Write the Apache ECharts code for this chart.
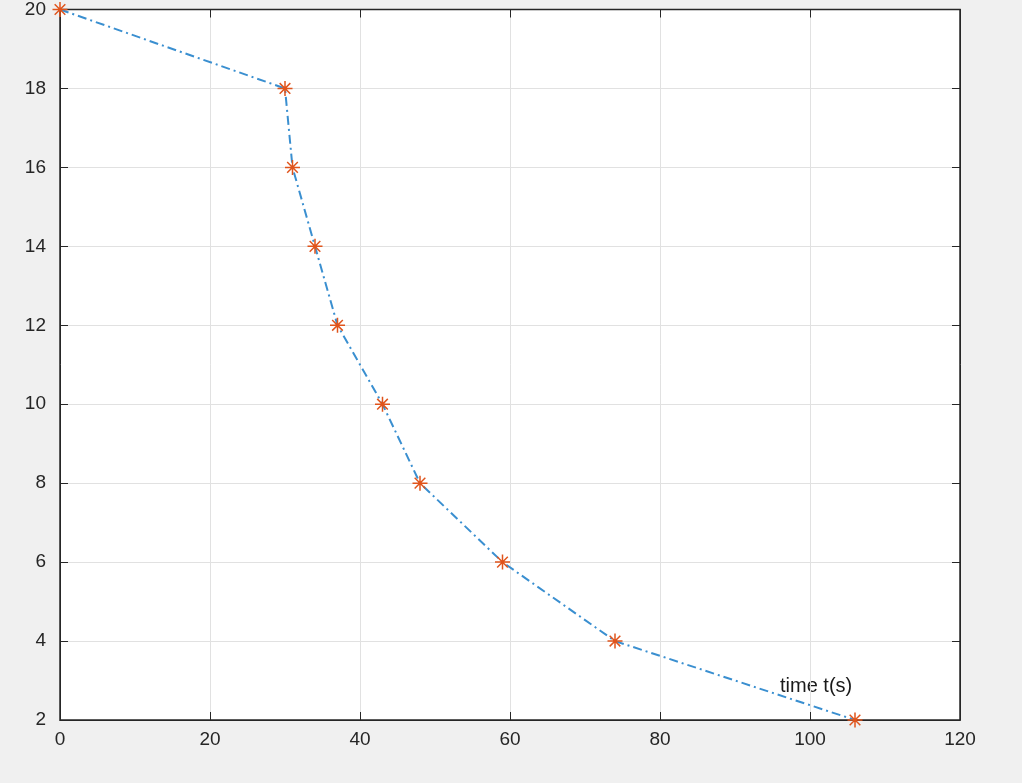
<!DOCTYPE html>
<html>
<head>
<meta charset="utf-8">
<script src="https://cdn.jsdelivr.net/npm/echarts@6/dist/echarts.min.js"></script>
<style>
html, body { margin: 0; padding: 0; background: #f0f0f0; }
#chart { width: 1022px; height: 783px; }
</style>
</head>
<body>
<div id="chart"></div>
<script>
var timeValues = [0, 30, 31, 34, 37, 43, 48, 59, 74, 106];
var heightValues = [20, 18, 16, 14, 12, 10, 8, 6, 4, 2];
var points = timeValues.map(function (t, i) { return [t, heightValues[i]]; });

var chart = echarts.init(document.getElementById('chart'));

var star = 'path://M-1,-10L1,-10L1,10L-1,10Z M-10,-1L10,-1L10,1L-10,1Z ' +
    'M-7.8,-6.4L-6.4,-7.8L7.8,6.4L6.4,7.8Z M6.4,-7.8L7.8,-6.4L-6.4,7.8L-7.8,6.4Z';

var axisText = { color: '#262626', fontSize: 19, fontFamily: 'Liberation Sans, Arial, sans-serif' };
var lineCol = '#262626';

function tick() {
    return { show: true, inside: true, length: 8, lineStyle: { color: lineCol } };
}

var option = {
    backgroundColor: '#f0f0f0',
    animation: false,
    grid: { left: 60, right: 62, top: 7, bottom: 63, backgroundColor: '#fff', show: true,
        borderWidth: 1.5, borderColor: lineCol },
    xAxis: [{
        type: 'value', min: 0, max: 120, interval: 20,
        axisLine: { show: true, onZero: false, lineStyle: { color: lineCol } },
        axisTick: tick(),
        axisLabel: Object.assign({ margin: 10 }, axisText),
        splitLine: { show: true, lineStyle: { color: '#e1e1e1' } }
    }, {
        type: 'value', position: 'top', min: 0, max: 120, interval: 20,
        axisLine: { show: true, onZero: false, lineStyle: { color: lineCol } },
        axisTick: tick(),
        axisLabel: { show: false }, splitLine: { show: false }
    }],
    yAxis: [{
        type: 'value', min: 2, max: 20, interval: 2,
        axisLine: { show: true, onZero: false, lineStyle: { color: lineCol } },
        axisTick: tick(),
        axisLabel: Object.assign({ margin: 14 }, axisText),
        splitLine: { show: true, lineStyle: { color: '#e1e1e1' } }
    }, {
        type: 'value', position: 'right', min: 2, max: 20, interval: 2,
        axisLine: { show: true, onZero: false, lineStyle: { color: lineCol } },
        axisTick: tick(),
        axisLabel: { show: false }, splitLine: { show: false }
    }],
    graphic: [{
        type: 'text', left: 780, top: 676,
        style: { text: 'time t(s)', fill: '#1a1a1a', font: '20px Liberation Sans, Arial, sans-serif' }
    }],
    series: [{
        type: 'line',
        data: points,
        symbol: star,
        symbolSize: 15,
        showAllSymbol: true,
        clip: false,
        lineStyle: { color: '#3a8fd0', width: 2, type: [9, 4, 2, 4] },
        itemStyle: { color: '#e0541c' }
    }]
};

chart.setOption(option);
</script>
</body>
</html>
